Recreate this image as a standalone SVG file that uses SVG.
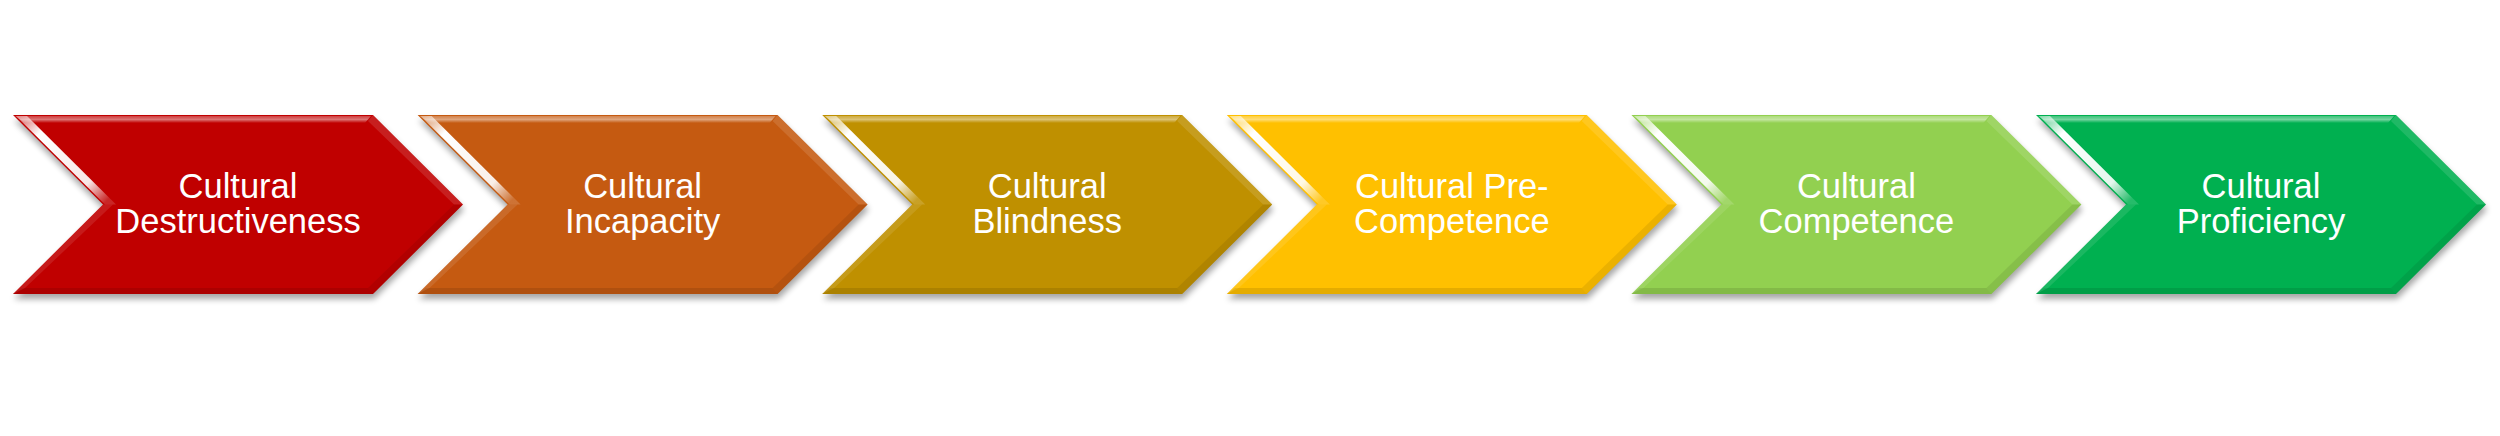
<svg xmlns="http://www.w3.org/2000/svg" xmlns:xlink="http://www.w3.org/1999/xlink" width="2500" height="436" viewBox="0 0 2500 436">
<style>
.lbl{font-family:"Liberation Sans",Arial,sans-serif;font-size:34.5px;fill:#FFFFFF;text-anchor:middle}
.shadow{fill:#000000;opacity:0.35;filter:url(#blur)}
.top{fill:url(#gTop)}
.diag{fill:url(#gDiag)}
.bot{fill:#000000;opacity:0.10}
.rup{fill:#FFFFFF;opacity:0.12}
.rdn{fill:#000000;opacity:0.08}
.ldn{fill:#FFFFFF;opacity:0.10}
</style>
<defs>
<filter id="blur" x="-10%" y="-20%" width="120%" height="140%"><feGaussianBlur stdDeviation="3"/></filter>
<linearGradient id="gTop" x1="0" y1="0" x2="0" y2="1">
<stop offset="0" stop-color="#FFFFFF" stop-opacity="0.25"/>
<stop offset="0.5" stop-color="#FFFFFF" stop-opacity="0.45"/>
<stop offset="1" stop-color="#FFFFFF" stop-opacity="0"/>
</linearGradient>
<linearGradient id="gDiag" gradientUnits="userSpaceOnUse" x1="0" y1="115" x2="90" y2="204.5">
<stop offset="0" stop-color="#FFFFFF" stop-opacity="0.25"/>
<stop offset="0.25" stop-color="#FFFFFF" stop-opacity="1"/>
<stop offset="0.8" stop-color="#FFFFFF" stop-opacity="0.9"/>
<stop offset="1" stop-color="#FFFFFF" stop-opacity="0.15"/>
</linearGradient>
<path id="chev" d="M0,115 L360,115 L450,204.5 L360,294 L0,294 L90,204.5 Z"/>
<g id="bevel">
<path class="top" d="M2,116 L358,116 L352,123 L12,123 Z"/>
<path class="diag" d="M3,116 L14,116 L103,204.5 L92,204.5 Z"/>
<path class="rup" d="M360,115 L450,204.5 L441,204.5 L355,121 Z"/>
<path class="rdn" d="M450,204.5 L360,294 L355,288 L441,204.5 Z"/>
<path class="bot" d="M8,288 L355,288 L360,294 L0,294 Z"/>
<path class="ldn" d="M90,204.5 L100,204.5 L12,288 L0,294 Z"/>
</g>
</defs>
<g id="connectors"></g>
<g id="node1" transform="translate(13,0)">
<use xlink:href="#chev" class="shadow" transform="translate(1,5)"/>
<use xlink:href="#chev" fill="#C00000"/>
<use xlink:href="#bevel"/>
<text class="lbl" x="225" y="198">Cultural</text>
<text class="lbl" x="225" y="233">Destructiveness</text>
</g>
<g id="node2" transform="translate(417.6,0)">
<use xlink:href="#chev" class="shadow" transform="translate(1,5)"/>
<use xlink:href="#chev" fill="#C55A11"/>
<use xlink:href="#bevel"/>
<text class="lbl" x="225" y="198">Cultural</text>
<text class="lbl" x="225" y="233">Incapacity</text>
</g>
<g id="node3" transform="translate(822.2,0)">
<use xlink:href="#chev" class="shadow" transform="translate(1,5)"/>
<use xlink:href="#chev" fill="#BF9000"/>
<use xlink:href="#bevel"/>
<text class="lbl" x="225" y="198">Cultural</text>
<text class="lbl" x="225" y="233">Blindness</text>
</g>
<g id="node4" transform="translate(1226.8,0)">
<use xlink:href="#chev" class="shadow" transform="translate(1,5)"/>
<use xlink:href="#chev" fill="#FFC000"/>
<use xlink:href="#bevel"/>
<text class="lbl" x="225" y="198">Cultural Pre-</text>
<text class="lbl" x="225" y="233">Competence</text>
</g>
<g id="node5" transform="translate(1631.4,0)">
<use xlink:href="#chev" class="shadow" transform="translate(1,5)"/>
<use xlink:href="#chev" fill="#92D050"/>
<use xlink:href="#bevel"/>
<text class="lbl" x="225" y="198">Cultural</text>
<text class="lbl" x="225" y="233">Competence</text>
</g>
<g id="node6" transform="translate(2036,0)">
<use xlink:href="#chev" class="shadow" transform="translate(1,5)"/>
<use xlink:href="#chev" fill="#00B050"/>
<use xlink:href="#bevel"/>
<text class="lbl" x="225" y="198">Cultural</text>
<text class="lbl" x="225" y="233">Proficiency</text>
</g>
</svg>
